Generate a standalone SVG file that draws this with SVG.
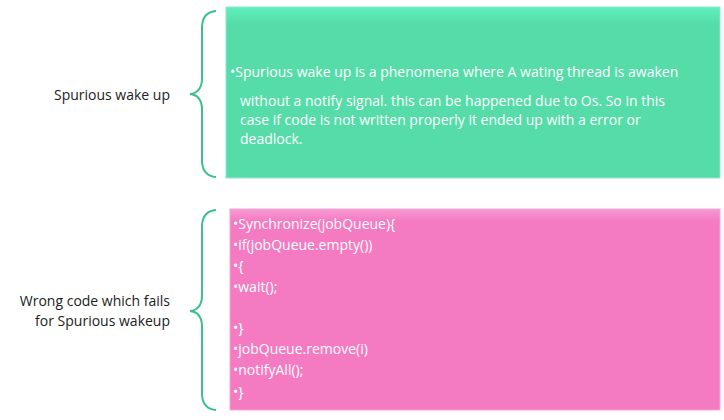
<svg xmlns="http://www.w3.org/2000/svg" width="724" height="420" viewBox="0 0 724 420">
<style>
text{font-family:"Open Sans","Liberation Sans",sans-serif;font-size:14px}
.w{fill:#fff}.l{fill:#222;text-anchor:end}
.br{fill:none;stroke:#3cbf8c;stroke-width:2}
</style>
<defs>
<linearGradient id="g1" x1="0" y1="0" x2="0" y2="1"><stop offset="0" stop-color="#5ff0bd"/><stop offset="0.1" stop-color="#55dca9"/><stop offset="1" stop-color="#55dca9"/></linearGradient>
<linearGradient id="g2" x1="0" y1="0" x2="0" y2="1"><stop offset="0" stop-color="#f79ad2"/><stop offset="0.06" stop-color="#f47bc2"/><stop offset="1" stop-color="#f47bc2"/></linearGradient>
</defs>
<rect width="724" height="420" fill="#fff"/>
<g id="connectors">
<path class="br" d="M216 11 Q203 12 202 26 L202 80 Q201 93 190 94 Q201 95 202 108 L202 162 Q203 176 216 177"/>
<path class="br" d="M216 210 Q203 211 202 225 L202 297 Q201 310 190 311 Q201 312 202 325 L202 395 Q203 409 216 410"/>
</g>
<g id="n1">
<rect x="226" y="7" width="494" height="171" fill="url(#g1)" stroke="#8ee8c8"/>
<text class="w" x="230" y="77">•Spurious  wake up is a phenomena where A wating thread is awaken</text>
<text class="w" x="240" y="106">without a notify signal. this can be happened due to Os. So in this</text>
<text class="w" x="240" y="125">case if code is not written properly it ended up with a error or</text>
<text class="w" x="240" y="144">deadlock.</text>
</g>
<g id="n2">
<rect x="230" y="209" width="490" height="201" fill="url(#g2)" stroke="#f6a6d6"/>
<text class="w" x="233" y="229">•Synchronize(jobQueue){</text>
<text class="w" x="233" y="250">•if(jobQueue.empty())</text>
<text class="w" x="233" y="271">•{</text>
<text class="w" x="233" y="292">•wait();</text>
<text class="w" x="233" y="333">•}</text>
<text class="w" x="233" y="354">•jobQueue.remove(i)</text>
<text class="w" x="233" y="375">•notifyAll();</text>
<text class="w" x="233" y="397">•}</text>
</g>
<g id="l1"><text class="l" x="170" y="100">Spurious wake up</text></g>
<g id="l2"><text class="l" x="170" y="306">Wrong code which fails</text><text class="l" x="170" y="326">for Spurious wakeup</text></g>
</svg>
